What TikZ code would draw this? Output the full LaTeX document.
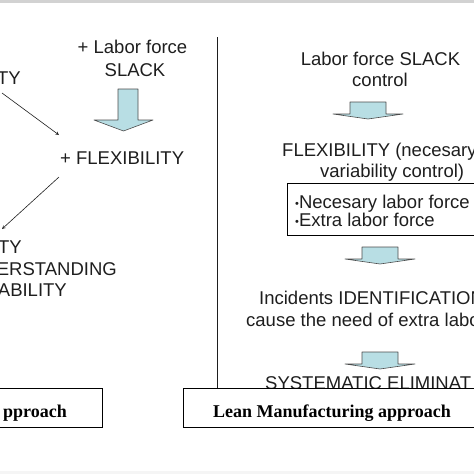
\documentclass[tikz,border=0pt]{standalone}
\usepackage{fontspec}
\setmainfont{Liberation Sans}
\newfontfamily\timesfont{Liberation Serif}
\usepackage{tikz}
\usetikzlibrary{shapes,arrows}
\usepackage{xcolor}
\definecolor{arrowblue}{RGB}{184,222,228}
\definecolor{ink}{RGB}{30,30,30}

\begin{document}
\begin{tikzpicture}[x=1pt,y=-1pt,
    txt/.style={inner sep=0pt,text=ink,font=\fontsize{18.5}{22}\selectfont},
    boxtxt/.style={inner sep=0pt,text=black,font=\timesfont\bfseries\fontsize{18}{22}\selectfont},
    blockarrow/.style={fill=arrowblue,draw=black!70,line width=0.6pt,line join=round},
    link/.style={->,>=stealth,draw=ink,line width=0.6pt}]
        \useasboundingbox (0,0) rectangle (474,474);
        \clip (0,0) rectangle (474,474);
        \fill[gray!35] (0,0) rectangle (474,2.5); % borde superior
        \fill[gray!8] (0,471) rectangle (474,474); % borde inferior
        % lado izquierdo
        \node[txt,anchor=base] (labor) at (132.5,53.6) {+ Labor force};
        \node[txt,anchor=base] (slack) at (135,76.6) {SLACK};
        \draw[blockarrow] (118,89) -- (138,89) -- (138,120) -- (153,120) -- (123.5,131) -- (94,120) -- (118,120) -- cycle;
        \node[txt,anchor=base east] (ty) at (21,84.6) {TY};
        \node[txt,anchor=base west] (flex) at (60,164.6) {+ FLEXIBILITY};
        \node[txt,anchor=base east] (lowa) at (22,253.6) {LTY};
        \node[txt,anchor=base east] (lowb) at (117,275.6) {ERSTANDING};
        \node[txt,anchor=base east] (lowc) at (67,296.6) {ABILITY};
        \coordinate (tyout) at (2,93);
        \coordinate (flexin) at (59,135);
        \coordinate (flexout) at (59,177);
        \coordinate (lowin) at (2,229);
        \draw[link] (tyout) -- (flexin);
        \draw[link] (flexout) -- (lowin);
        % linea divisoria
        \draw[line width=0.8pt,ink] (217,37) -- (217,388);
        % lado derecho
        \node[txt,anchor=base] (slackctl) at (380.5,65.6) {Labor force SLACK};
        \node[txt,anchor=base] (control) at (380,86.6) {control};
        \node[txt,anchor=base west] (flexa) at (282,156.6) {FLEXIBILITY (necesary};
        \node[txt,anchor=base west] (flexb) at (320,177.6) {variability control)};
        \draw[line width=0.8pt,black] (287,183) rectangle (480,235);
        \node[txt,anchor=base west] (neca) at (295,208.6) {{\fontsize{11}{11}\selectfont\raisebox{1.5pt}{•}}Necesary labor force};
        \node[txt,anchor=base west] (necb) at (295,226.6) {{\fontsize{11}{11}\selectfont\raisebox{1.5pt}{•}}Extra labor force};
        \node[txt,anchor=base west] (inca) at (259,304.6) {Incidents IDENTIFICATION};
        \node[txt,anchor=base west] (incb) at (246,326.6) {cause the need of extra labo};
        \node[txt,anchor=base west] (sys) at (265,389) {SYSTEMATIC ELIMINAT};
        \foreach \cx/\cy in {368/102,380/247,380/352}
        \draw[blockarrow] (\cx-18,\cy) -- (\cx+18,\cy) -- (\cx+18,\cy+12) -- (\cx+35,\cy+12) -- (\cx,\cy+17) -- (\cx-35,\cy+12) -- (\cx-18,\cy+12) -- cycle;
        % cajas inferiores
        \draw[line width=0.9pt,fill=white] (-5,388) rectangle (102,427);
        \node[boxtxt,anchor=base east] (trad) at (67,417) {pproach};
        \draw[line width=0.9pt,fill=white] (183,388) rectangle (480,427);
        \node[boxtxt,anchor=base west] (lean) at (213,417) {Lean Manufacturing approach};
        \end{tikzpicture}
\end{document}
